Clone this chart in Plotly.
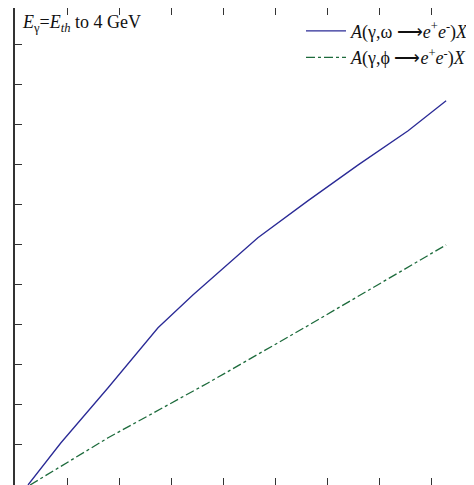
import plotly.graph_objects as go

# curves (arbitrary units, one tick = 1)
omega_x = [0.25, 0.88, 1.79, 2.75, 3.42, 4.67, 5.63, 6.6, 7.56, 8.29]
omega_y = [0.0, 1.05, 2.43, 3.93, 4.75, 6.18, 7.1, 8.0, 8.85, 9.6]
phi_x = [0.29, 1.79, 3.71, 5.63, 8.29]
phi_y = [0.0, 1.18, 2.55, 3.98, 6.0]

serif = "Liberation Serif, Times New Roman, serif"

fig = go.Figure()
fig.add_trace(go.Scatter(
    x=omega_x, y=omega_y, mode="lines", line=dict(color="#2a2a96", width=1.3),
    name="<i>A</i>(γ,ω ⟶<i>e</i><sup>+</sup><i>e</i><sup>-</sup>)<i>X</i>",
))
fig.add_trace(go.Scatter(
    x=phi_x, y=phi_y, mode="lines", line=dict(color="#1d6b3c", width=1.3, dash="dashdot"),
    name="<i>A</i>(γ,ϕ ⟶<i>e</i><sup>+</sup><i>e</i><sup>-</sup>)<i>X</i>",
))

axis = dict(showgrid=False, zeroline=False, showline=True, linecolor="#333", linewidth=1.5,
            ticks="inside", ticklen=7, tickcolor="#333", mirror="ticks", showticklabels=False, dtick=1)

fig.update_layout(
    width=474, height=485,
    margin=dict(l=7, r=0, t=0, b=8, autoexpand=False),
    plot_bgcolor="white", paper_bgcolor="white",
    font=dict(family=serif, size=17, color="#111"),
    xaxis=dict(range=[0, 8.98], **axis),
    yaxis=dict(range=[0, 11.92], **axis),
    legend=dict(x=0.985, y=0.99, xanchor="right", yanchor="top", bgcolor="rgba(0,0,0,0)",
                font=dict(family=serif, size=18), tracegroupgap=0, itemwidth=40),
    showlegend=True,
    annotations=[dict(
        x=0.01, y=0.995, xref="paper", yref="paper", xanchor="left", yanchor="top", showarrow=False,
        text="<i>E</i><sub>γ</sub>=<i>E</i><sub><i>th</i></sub> to 4 GeV", font=dict(family=serif, size=18),
    )],
)

fig.write_html("out.html")
